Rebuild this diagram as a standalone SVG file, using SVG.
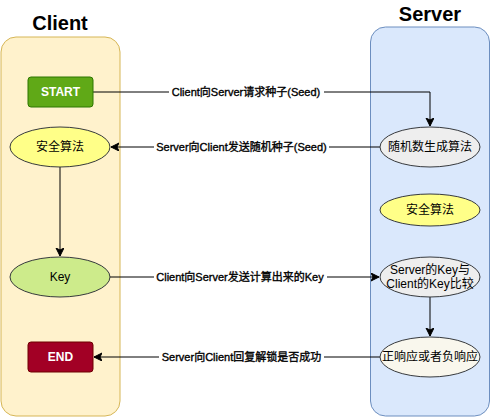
<svg xmlns="http://www.w3.org/2000/svg" width="492" height="418" viewBox="0 0 492 418">
<defs>
<style>
.title{font-family:"Liberation Sans",Arial,sans-serif;font-weight:bold;font-size:20px;fill:#000;text-anchor:middle}
.nt{font-family:"Liberation Sans","Noto Sans CJK SC",sans-serif;font-size:12px;fill:#000;text-anchor:middle}
.bt{font-family:"Liberation Sans",Arial,sans-serif;font-size:12px;font-weight:bold;fill:#fff;text-anchor:middle}
.lbl{font-family:"Liberation Sans","Noto Sans CJK SC",sans-serif;font-size:11px;fill:#000;stroke:#000;stroke-width:0.35;text-anchor:middle}
.edge{fill:none;stroke:#000;stroke-width:1}
.lblbg{fill:#fff}
</style>
<marker id="arr" markerWidth="10" markerHeight="10" refX="8" refY="4" orient="auto" markerUnits="userSpaceOnUse">
<path d="M0,0 L8,4 L0,8 L2,4 Z" fill="#000" stroke="#000" stroke-width="1"/>
</marker>
</defs>
<rect width="492" height="418" fill="#fff"/>
<g id="client-lane">
<rect x="1" y="37" width="119" height="379" rx="15" fill="#fff2cc" stroke="#d6b656"/>
<text class="title" x="60" y="30">Client</text>
</g>
<g id="server-lane">
<rect x="370.5" y="27" width="119" height="389" rx="15" fill="#dae8fc" stroke="#6c8ebf"/>
<text class="title" x="430" y="21">Server</text>
</g>
<g id="connectors">
<path class="edge" d="M93,92 H430 V126" marker-end="url(#arr)"/>
<path class="edge" d="M380,147 H111" marker-end="url(#arr)"/>
<path class="edge" d="M60,167 V256" marker-end="url(#arr)"/>
<path class="edge" d="M110,277 H379" marker-end="url(#arr)"/>
<path class="edge" d="M430,297 V336" marker-end="url(#arr)"/>
<path class="edge" d="M380,357 H94" marker-end="url(#arr)"/>
<rect class="lblbg" x="169" y="85" width="155" height="14"/>
<text class="lbl" x="246" y="96">Client向Server请求种子(Seed)</text>
<rect class="lblbg" x="154" y="140" width="175" height="14"/>
<text class="lbl" x="241.5" y="151">Server向Client发送随机种子(Seed)</text>
<rect class="lblbg" x="154" y="270" width="173" height="14"/>
<text class="lbl" x="240" y="281">Client向Server发送计算出来的Key</text>
<rect class="lblbg" x="159" y="350" width="165" height="14"/>
<text class="lbl" x="241.5" y="361">Server向Client回复解锁是否成功</text>
</g>
<g id="start">
<rect x="28" y="77" width="65" height="30" rx="3" fill="#60a917" stroke="#2d7600"/>
<text class="bt" x="60.5" y="96">START</text>
</g>
<g id="client-algo">
<ellipse cx="60" cy="147" rx="50" ry="20" fill="#ffff88" stroke="#36393d"/>
<text class="nt" x="60" y="151">安全算法</text>
</g>
<g id="key">
<ellipse cx="60" cy="277" rx="50" ry="20" fill="#cdeb8b" stroke="#36393d"/>
<text class="nt" x="60" y="281">Key</text>
</g>
<g id="end">
<rect x="28" y="342" width="65" height="30" rx="3" fill="#a20025" stroke="#6f0000"/>
<text class="bt" x="60.5" y="361">END</text>
</g>
<g id="random-gen">
<ellipse cx="430" cy="147" rx="50" ry="20" fill="#eeeeee" stroke="#36393d"/>
<text class="nt" x="430" y="151">随机数生成算法</text>
</g>
<g id="server-algo">
<ellipse cx="430" cy="210" rx="50" ry="16" fill="#ffff88" stroke="#36393d"/>
<text class="nt" x="430" y="214">安全算法</text>
</g>
<g id="compare">
<ellipse cx="430" cy="277" rx="50" ry="20" fill="#eeeeee" stroke="#36393d"/>
<text class="nt" x="430" y="274">Server的Key与</text>
<text class="nt" x="430" y="288">Client的Key比较</text>
</g>
<g id="response">
<ellipse cx="430" cy="357" rx="50" ry="20" fill="#f9f7ed" stroke="#36393d"/>
<text class="nt" x="430" y="361">正响应或者负响应</text>
</g>
</svg>
